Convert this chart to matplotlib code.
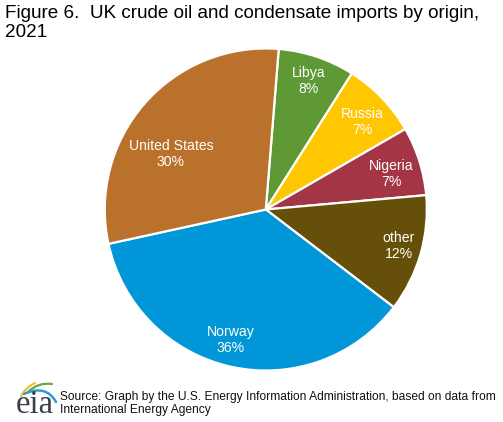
import matplotlib
matplotlib.use("Agg")
import matplotlib.pyplot as plt
from matplotlib.patches import PathPatch
from matplotlib.path import Path

plt.rcParams['font.family'] = ['Liberation Sans', 'DejaVu Sans']

labels = ['Libya', 'Russia', 'Nigeria', 'other', 'Norway', 'United States']
shares = [7.7, 7.7, 6.9, 11.8, 36.2, 29.7]
percent_labels = ['8%', '7%', '7%', '12%', '36%', '30%']
colors = ['#5f9936', '#ffc602', '#a33545', '#664f08', '#0096d7', '#ba712b']
title = 'Figure 6.  UK crude oil and condensate imports by origin,\n2021'
source = 'Source: Graph by the U.S. Energy Information Administration, based on data from\nInternational Energy Agency'

W, H = 503, 422
fig = plt.figure(figsize=(W/100, H/100), dpi=100)

cx, cy, r = 265.8, 209.5, 161
ax2 = fig.add_axes([(cx-r-1)/W, 1-(cy+r+1)/H, (2*r+2)/W, (2*r+2)/H])
ax2.pie(shares, colors=colors, startangle=85.4, counterclock=False,
        radius=1.0, wedgeprops=dict(edgecolor='white', linewidth=1.6))
ax2.set_xlim(-1.006, 1.006); ax2.set_ylim(-1.006, 1.006)

ax = fig.add_axes([0, 0, 1, 1])
ax.set_xlim(0, W); ax.set_ylim(H, 0); ax.axis('off')
ax.set_zorder(5)

label_pos = [(309, 81), (362, 122), (391, 174), (399, 246), (230.5, 340), (171, 154)]
for l, p, (x, y) in zip(labels, percent_labels, label_pos):
    ax.text(x, y, f'{l}\n{p}', color='white', fontsize=10.1, ha='center', va='center', linespacing=1.2)

ax.text(5, 23, title, fontsize=13.55, va='center', ha='left', linespacing=1.12, color='black')
ax.text(60, 403.5, source, fontsize=8.62, va='center', ha='left', linespacing=1.12, color='#111111')

# eia logo
ax.text(34.5, 405, 'eia', fontsize=23.5, family=['Liberation Serif'], ha='center', va='center', color='#3a4048')
def arc(p0, p1, p2, col, lw):
    ax.add_patch(PathPatch(Path([p0, p1, p2], [Path.MOVETO, Path.CURVE3, Path.CURVE3]),
                           fc='none', ec=col, lw=lw, capstyle='round'))
arc((21, 396), (26, 387), (35, 383), '#f2c230', 1.6)
arc((28, 392), (38, 382), (52, 384), '#6aa842', 1.6)
arc((24, 394), (46, 384), (56, 402), '#2f9bd6', 1.8)

fig.savefig('out.png', dpi=100)
